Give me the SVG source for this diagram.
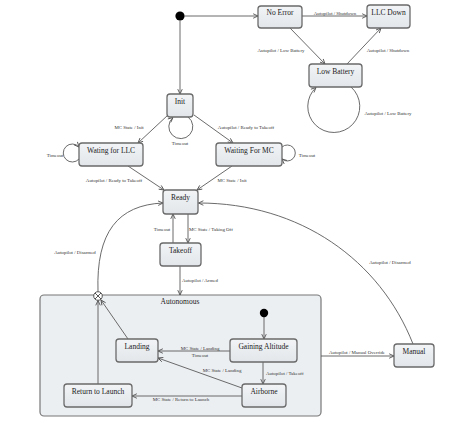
<svg xmlns="http://www.w3.org/2000/svg" width="474" height="425" viewBox="0 0 474 425">
<defs>
<marker id="arr" viewBox="0 0 8 8" refX="7.5" refY="4" markerWidth="6" markerHeight="6" orient="auto" markerUnits="userSpaceOnUse">
<path d="M1,1 L7.5,4 L1,7" fill="none" stroke="#555" stroke-width="1.2"/>
</marker>
<linearGradient id="g" x1="0" y1="0" x2="0" y2="1">
<stop offset="0" stop-color="#f2f4f6"/>
<stop offset="1" stop-color="#e2e6ea"/>
</linearGradient>
</defs>
<style>
.st{fill:url(#g);stroke:#6a6a6a;stroke-width:1.3}
.cont{fill:#eceff2;stroke:#777;stroke-width:1.2}
.nl{font-family:"Liberation Serif",serif;font-size:7.5px;fill:#1a1a1a;text-anchor:middle}
.el{font-family:"Liberation Serif",serif;font-size:4.9px;fill:#333}
.c{text-anchor:middle}
.la{fill:none;stroke:#5a5a5a;stroke-width:0.9;marker-end:url(#arr)}
.dot{fill:#000}
</style>
<rect width="474" height="425" fill="#fff"/>

<g id="autonomous">
<rect class="cont" x="40" y="295" width="281" height="121" rx="4"/>
<text class="nl" x="180" y="304">Autonomous</text>
</g>

<g id="connectors">
<line class="la" x1="184.5" y1="16" x2="258" y2="16"/>
<line class="la" x1="180" y1="20.5" x2="180" y2="94"/>
<line class="la" x1="302" y1="16" x2="367" y2="16"/>
<line class="la" x1="290" y1="28" x2="325" y2="64"/>
<line class="la" x1="347" y1="64" x2="381" y2="28"/>
<path class="la" d="M351,87 A26,26 0 1 1 316,87.5"/>
<path class="la" d="M188,117 A12,12 0 1 1 173,117.5"/>
<line class="la" x1="168" y1="115" x2="138" y2="143"/>
<line class="la" x1="194" y1="115" x2="233" y2="143"/>
<path class="la" d="M79,159 A9,9 0 1 1 79,147"/>
<path class="la" d="M282,147 A8,8 0 1 1 282,159"/>
<line class="la" x1="128" y1="166" x2="164" y2="190"/>
<line class="la" x1="232" y1="166" x2="197" y2="190"/>
<line class="la" x1="173" y1="243" x2="173" y2="214"/>
<line class="la" x1="188" y1="214" x2="188" y2="243"/>
<line class="la" x1="180" y1="266" x2="180" y2="295"/>
<path class="la" d="M98,291.5 C96,232 118,205 163,203"/>
<path class="la" d="M413,344 C380,260 300,203 198.5,203"/>
<line class="la" x1="321" y1="356" x2="394" y2="356"/>
<line class="la" x1="264" y1="317" x2="264" y2="339"/>
<line class="la" x1="230" y1="351" x2="158" y2="351"/>
<line class="la" x1="242" y1="388" x2="158" y2="358"/>
<line class="la" x1="263" y1="362" x2="263" y2="384"/>
<line class="la" x1="242" y1="396" x2="132" y2="396"/>
<line class="la" x1="98" y1="384" x2="98" y2="300.5"/>
<line class="la" x1="128" y1="339" x2="101" y2="300"/>
</g>

<g id="edge-labels">
<text class="el c" x="335" y="14.5">Autopilot / Shutdown</text>
<text class="el c" x="281" y="52">Autopilot / Low Battery</text>
<text class="el c" x="388" y="52">Autopilot / Shutdown</text>
<text class="el c" x="388" y="114.5">Autopilot / Low Battery</text>
<text class="el c" x="180" y="145">Timeout</text>
<text class="el c" x="129" y="128.5">MC State / Init</text>
<text class="el c" x="246" y="129">Autopilot / Ready to Takeoff</text>
<text class="el c" x="55" y="157">Timeout</text>
<text class="el c" x="307" y="157">Timeout</text>
<text class="el c" x="114" y="182">Autopilot / Ready to Takeoff</text>
<text class="el c" x="232" y="182">MC State / Init</text>
<text class="el c" x="162" y="231">Timeout</text>
<text class="el" x="189" y="231">MC State / Taking Off</text>
<text class="el" x="182" y="282">Autopilot / Armed</text>
<text class="el c" x="75" y="254">Autopilot / Disarmed</text>
<text class="el c" x="390" y="264">Autopilot / Disarmed</text>
<text class="el c" x="357" y="353.5">Autopilot / Manual Override</text>
<text class="el c" x="200" y="349.5">MC State / Landing</text>
<text class="el c" x="200" y="356.5">Timeout</text>
<text class="el c" x="222" y="372">MC State / Landing</text>
<text class="el" x="266" y="375">Autopilot / Takeoff</text>
<text class="el c" x="181" y="401">MC State / Return to Launch</text>
</g>

<g id="initial"><circle class="dot" cx="180" cy="16" r="4.6"/></g>
<g id="no-error"><rect class="st" x="258" y="6" width="44" height="22" rx="3"/><text class="nl" x="280" y="15">No Error</text></g>
<g id="llc-down"><rect class="st" x="367" y="5" width="43" height="23" rx="3"/><text class="nl" x="388.5" y="15">LLC Down</text></g>
<g id="low-battery"><rect class="st" x="309" y="64" width="53" height="23" rx="3"/><text class="nl" x="335.5" y="74">Low Battery</text></g>
<g id="init"><rect class="st" x="167" y="94" width="26" height="23" rx="3"/><text class="nl" x="180" y="104">Init</text></g>
<g id="waiting-llc"><rect class="st" x="79" y="143" width="64" height="23" rx="3"/><text class="nl" x="111" y="153">Wating for LLC</text></g>
<g id="waiting-mc"><rect class="st" x="216" y="143" width="66" height="23" rx="3"/><text class="nl" x="249" y="153">Waiting For MC</text></g>
<g id="ready"><rect class="st" x="163" y="190" width="35" height="24" rx="3"/><text class="nl" x="180.5" y="200">Ready</text></g>
<g id="takeoff"><rect class="st" x="160" y="243" width="41" height="23" rx="3"/><text class="nl" x="180.5" y="253">Takeoff</text></g>
<g id="junction"><circle cx="98" cy="296" r="4.3" fill="#fff" stroke="#444" stroke-width="0.9"/><path d="M95,293 L101,299 M101,293 L95,299" stroke="#444" stroke-width="0.9"/></g>
<g id="initial-inner"><circle class="dot" cx="264" cy="313" r="4.2"/></g>
<g id="gaining-altitude"><rect class="st" x="230" y="339" width="67" height="23" rx="3"/><text class="nl" x="263.5" y="349">Gaining Altitude</text></g>
<g id="landing"><rect class="st" x="116" y="339" width="42" height="23" rx="3"/><text class="nl" x="137" y="349">Landing</text></g>
<g id="airborne"><rect class="st" x="242" y="384" width="44" height="23" rx="3"/><text class="nl" x="264" y="394">Airborne</text></g>
<g id="return-to-launch"><rect class="st" x="64" y="384" width="68" height="23" rx="3"/><text class="nl" x="98" y="394">Return to Launch</text></g>
<g id="manual"><rect class="st" x="394" y="344" width="40" height="23" rx="3"/><text class="nl" x="414" y="354">Manual</text></g>
</svg>
